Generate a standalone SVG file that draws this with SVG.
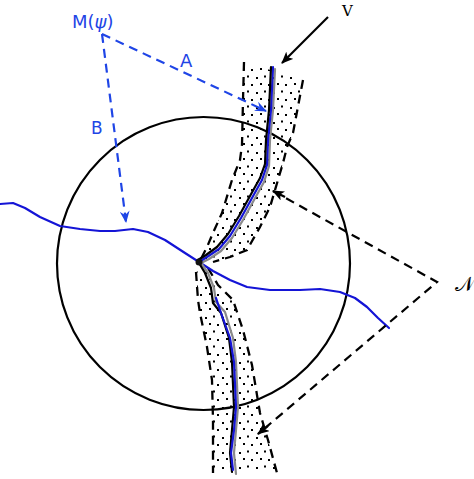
<svg xmlns="http://www.w3.org/2000/svg" width="474" height="479" viewBox="0 0 474 479">
<style>
.bd{fill:none;stroke:#000;stroke-width:2.3;stroke-dasharray:9 6}
.ln{fill:none;stroke-linejoin:round;stroke-linecap:round}
.bl{stroke:#1414d6;stroke-width:2.2}
.bk{stroke:#000;stroke-width:2.2}
.gy{stroke:#8a8a8a;stroke-width:2.2}
.bdash{fill:none;stroke:#1f45e6;stroke-width:2.2;stroke-dasharray:9 6}
.kdash{fill:none;stroke:#000;stroke-width:2.2;stroke-dasharray:9 6}
.lab{font-family:"DejaVu Sans","Liberation Sans",sans-serif;fill:#1f45e6}
</style>
<defs>
<pattern id="dots" width="17" height="15" patternUnits="userSpaceOnUse">
<rect x="1" y="2" width="2" height="2"/>
<rect x="9" y="0.5" width="2" height="2"/>
<rect x="5" y="8" width="2" height="2"/>
<rect x="13" y="9" width="2" height="2"/>
</pattern>
<marker id="ab" viewBox="0 0 12 10" refX="11" refY="5" markerWidth="12" markerHeight="10" markerUnits="userSpaceOnUse" orient="auto">
<path d="M0,0 L12,5 L0,10 L4,5 z" fill="#1f45e6"/>
</marker>
<marker id="ak" viewBox="0 0 12 10" refX="11" refY="5" markerWidth="12" markerHeight="10" markerUnits="userSpaceOnUse" orient="auto">
<path d="M0,0 L12,5 L0,10 L3,5 z" fill="#000"/>
</marker>
</defs>
<rect width="474" height="479" fill="#fff"/>

<g id="circle">
<circle cx="203.5" cy="263.5" r="146.5" fill="none" stroke="#000" stroke-width="2.2"/>
</g>

<g id="band-upper">
<polygon points="244,62 243,100 242,145 240,160 232,180 222,213 213,233 207,247 200,260 213,262 230,257 247,250 260,227 270,207 283,163 287,147 293,133 303,80" fill="url(#dots)"/>
<polyline class="bd" points="244,62 243,100 242,145 240,160 232,180 222,213 213,233 207,247 201,259"/>
<polyline class="bd" points="303,80 293,133 287,147 283,163 270,207 260,227 247,250 230,257 213,262"/>
</g>

<g id="band-lower">
<polygon points="196,272 198,300 200,313 207,347 212,380 213,420 213,473 277,473 268,440 260,413 252,365 243,330 233,300 218,285 208,268" fill="url(#dots)"/>
<polyline class="bd" points="196,272 198,300 200,313 207,347 212,380 213,420 213,473"/>
<polyline class="bd" points="208,268 218,285 233,300 243,330 252,365 260,413 268,440 277,473"/>
</g>

<g id="river">
<polyline class="ln bl" points="0,204 13,203 25,208 40,217 60,226 80,229 100,231 115,231 133,229 148,232 165,240 185,253 199,262"/>
<polyline class="ln bl" points="199,262 213,271 230,280 247,287 270,290 300,290 320,289 340,292 355,298 367,307 378,318 389,328"/>
</g>

<g id="fault">
<polyline class="ln gy" points="275,69 273,110 270,140 269,166 264,182 254,200 243,220 232,238 221,251 209,259 201,263"/>
<polyline class="ln bl" points="273,67 271,110 268,140 267,165 262,180 252,198 241,218 230,236 219,249 207,257 199,262"/>
<polyline class="ln bk" points="271,67 269,110 266,140 265,164 260,178 250,196 239,216 228,234 217,247 206,255 198,260"/>
<polyline class="ln gy" points="201,263 208,273 214,288 216,302 225,312 233,338 236,362 238,407 236,430 234,453 236,474"/>
<polyline class="ln bk" points="199,263 205,273 211,288 213,303 221,313 229,338 232,362 234,407 232,430 230,453 232,472"/>
<polyline class="ln bl" points="216,298 221,313 230,338 234,362 236,407 234,430 231,453 233,470"/>
<circle cx="199" cy="262" r="3.5" fill="#111"/>
</g>

<g id="connectors">
<line class="bdash" x1="102" y1="34" x2="266" y2="111" marker-end="url(#ab)"/>
<line class="bdash" x1="102" y1="34" x2="126" y2="222" marker-end="url(#ab)"/>
<line x1="328" y1="17" x2="282" y2="63" stroke="#000" stroke-width="2.2" marker-end="url(#ak)"/>
<polyline class="kdash" points="273,191 437,282 258,434"/>
<line x1="285" y1="197" x2="273" y2="191" stroke="#000" stroke-width="2.2" marker-end="url(#ak)"/>
<line x1="268" y1="426" x2="258" y2="434" stroke="#000" stroke-width="2.2" marker-end="url(#ak)"/>
</g>

<g id="labels">
<text class="lab" x="72" y="28" font-size="18">M(<tspan font-style="italic">ψ</tspan>)</text>
<text class="lab" x="180" y="67" font-size="18">A</text>
<text class="lab" x="91" y="134" font-size="17">B</text>
<text x="342" y="16" font-size="15" font-family="'DejaVu Serif','Liberation Serif',serif">V</text>
<text x="455" y="291" font-size="20" font-family="'DejaVu Serif','Noto Sans','Liberation Serif',serif">𝒩</text>
</g>
</svg>
